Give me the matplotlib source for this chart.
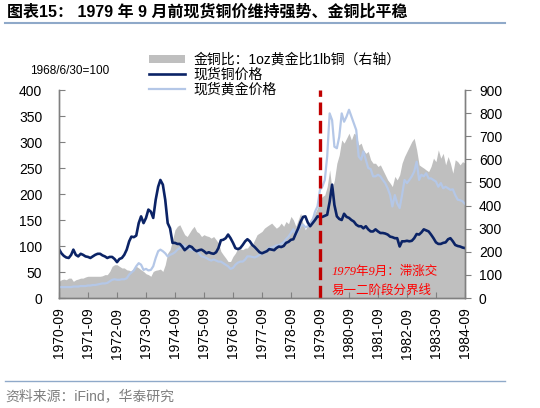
import matplotlib
matplotlib.use('Agg')
import matplotlib.pyplot as plt
import matplotlib.dates as mdates
from matplotlib.lines import Line2D
from matplotlib.patches import Patch
import pandas as pd

plt.rcParams['font.family'] = ['Liberation Sans', 'Noto Sans CJK SC']
plt.rcParams['axes.unicode_minus'] = False

# monthly, 1970-09 .. 1984-09 (index 1968/6/30=100)
copper = [94, 86, 81, 78,
          77, 83, 93, 83, 80, 85, 83, 80, 79, 77, 80, 83,
          85, 85, 82, 80, 77, 79, 79, 75, 69, 75, 77, 83,
          93, 109, 118, 117, 120, 144, 157, 144, 154, 170, 166, 154,
          189, 214, 227, 218, 189, 144, 134, 106, 106, 104, 104, 99,
          92, 96, 100, 98, 93, 90, 92, 93, 90, 86, 88, 86,
          85, 88, 96, 111, 112, 115, 122, 115, 106, 96, 94, 96,
          102, 109, 113, 109, 102, 98, 93, 88, 86, 88, 90, 94,
          93, 92, 96, 99, 98, 100, 106, 108, 112, 113, 124, 134,
          147, 156, 157, 145, 138, 144, 150, 157, 156, 156, 158, 160,
          185, 218, 179, 157, 152, 150, 162, 156, 154, 150, 147, 141,
          138, 138, 134, 138, 132, 128, 128, 132, 128, 125, 125, 124,
          122, 118, 117, 115, 115, 99, 109, 109, 110, 109, 110, 115,
          123, 122, 126, 132, 130, 128, 122, 115, 107, 104, 104, 106,
          107, 113, 115, 109, 102, 100, 99, 97, 96]

gold = [21, 21, 21, 21,
        21, 21, 22, 22, 22, 23, 23, 23, 24, 24, 25, 25,
        26, 27, 28, 28, 29, 32, 35, 36, 35, 35, 36, 36,
        38, 45, 49, 53, 61, 67, 64, 54, 56, 53, 54, 61,
        77, 90, 93, 90, 86, 80, 83, 85, 88, 93, 96, 102,
        100, 96, 94, 93, 92, 90, 86, 80, 79, 77, 74, 72,
        74, 72, 70, 70, 67, 64, 61, 56, 58, 64, 68, 70,
        70, 74, 80, 80, 79, 78, 80, 83, 86, 88, 92, 96,
        97, 99, 101, 102, 104, 107, 113, 118, 125, 132, 120, 130,
        138, 141, 136, 138, 143, 150, 166, 176, 208, 214, 227, 272,
        355, 342, 291, 288, 310, 355, 339, 349, 362, 349, 336, 323,
        272, 266, 282, 266, 250, 248, 234, 234, 237, 234, 227, 221,
        211, 198, 176, 198, 182, 173, 198, 227, 221, 227, 234, 243,
        262, 227, 237, 234, 240, 230, 230, 227, 224, 214, 221, 211,
        214, 211, 208, 209, 198, 189, 188, 186, 181]

ratio = [72, 79, 82, 79,
         86, 86, 72, 79, 82, 86, 86, 91, 94, 94, 94, 94,
         94, 94, 96, 101, 101, 115, 137, 144, 144, 137, 130, 130,
         122, 120, 115, 130, 137, 130, 122, 115, 105, 101, 94, 115,
         120, 122, 125, 115, 144, 194, 209, 252, 295, 310, 317, 295,
         274, 266, 281, 298, 310, 288, 281, 266, 274, 269, 266, 259,
         266, 252, 238, 202, 187, 173, 158, 158, 180, 194, 216, 212,
         209, 216, 216, 230, 230, 252, 274, 281, 288, 302, 310, 317,
         324, 312, 302, 310, 324, 310, 331, 321, 353, 338, 310, 338,
         367, 317, 295, 317, 338, 353, 367, 389, 425, 439, 446, 482,
         554, 468, 511, 583, 619, 684, 670, 691, 713, 684, 713, 706,
         662, 670, 641, 626, 634, 598, 583, 583, 569, 576, 554, 533,
         511, 497, 482, 526, 511, 533, 583, 612, 634, 655, 677, 691,
         641, 576, 569, 562, 554, 547, 569, 605, 590, 641, 605, 626,
         576, 612, 583, 540, 598, 590, 576, 590, 583]

dates = pd.date_range('1970-09-01', periods=len(copper), freq='MS')
split_date = pd.Timestamp('1979-09-01')

fig = plt.figure(figsize=(5.4, 4.08), dpi=100)
ax = fig.add_axes([59/540, 1-298/408, (465-59)/540, (298-90)/408])
ax2 = ax.twinx()
ax.set_zorder(ax2.get_zorder() + 1)
ax.patch.set_visible(False)

ax2.fill_between(dates, ratio, 0, color='#BFBFBF', lw=0)
ax.plot(dates, gold, color='#B4C7E7', lw=1.6)
ax.plot(dates, copper, color='#0B2366', lw=1.9)
ax.axvline(split_date, color='#C00000', lw=2.4, dashes=(3.8, 1.7))

ax.set_xlim(dates[0], dates[-1])
ax.set_ylim(0, 400)
ax2.set_ylim(0, 900)
ax.set_yticks(range(0, 401, 50))
ax2.set_yticks(range(0, 901, 100))

ax.xaxis.set_major_locator(mdates.MonthLocator(bymonth=9))
ax.xaxis.set_major_formatter(mdates.DateFormatter('%Y-%m'))
for lab in ax.get_xticklabels():
    lab.set_rotation(90)

for a in (ax, ax2):
    a.spines['top'].set_visible(False)
    for s in ('left', 'right', 'bottom'):
        a.spines[s].set_color('#808080')
        a.spines[s].set_linewidth(1.0)
ax.tick_params(axis='y', direction='in', length=4, pad=12, labelsize=10, color='#808080')
ax.tick_params(axis='x', direction='in', length=4, pad=7, labelsize=10, color='#808080')
ax2.tick_params(axis='y', direction='out', length=4, pad=6, labelsize=10, color='#808080')

handles = [Patch(facecolor='#BFBFBF', edgecolor='none'),
           Line2D([], [], color='#0B2366', lw=1.9),
           Line2D([], [], color='#B4C7E7', lw=1.6)]
labels = ['金铜比：1oz黄金比1lb铜（右轴）', '现货铜价格', '现货黄金价格']
fig.legend(handles, labels, loc='upper left', bbox_to_anchor=(149/540, 1-53/408),
           frameon=False, fontsize=10, handlelength=2.6, handleheight=0.45,
           handletextpad=0.6, labelspacing=0.05, borderpad=0, borderaxespad=0)

ax.text(332/540, 1-281/408, '1979年9月：滞涨交\n易一二阶段分界线', transform=fig.transFigure,
        color='#FF0000', fontsize=9, style='italic', va='center', ha='left',
        linespacing=1.7, family=['Liberation Serif', 'Noto Sans CJK SC'])

fig.text(70/540, 1-71/408, '1968/6/30=100', fontsize=8.5, ha='center', va='center')

fig.text(7/540, 1-12/408, '图表15： 1979 年 9 月前现货铜价维持强势、金铜比平稳',
         fontsize=11.5, fontweight='bold', va='center', ha='left')
fig.add_artist(Line2D([5/540, 505/540], [1-23/408, 1-23/408], color='#8FA9C9', lw=1.5))
fig.add_artist(Line2D([5/540, 505/540], [1-381/408, 1-381/408], color='#8FA9C9', lw=1.0))
fig.text(5/540, 1-396/408, '资料来源：iFind，华泰研究', fontsize=10, color='#7F7F7F',
         va='center', ha='left')

fig.savefig('out.png', dpi=100)
